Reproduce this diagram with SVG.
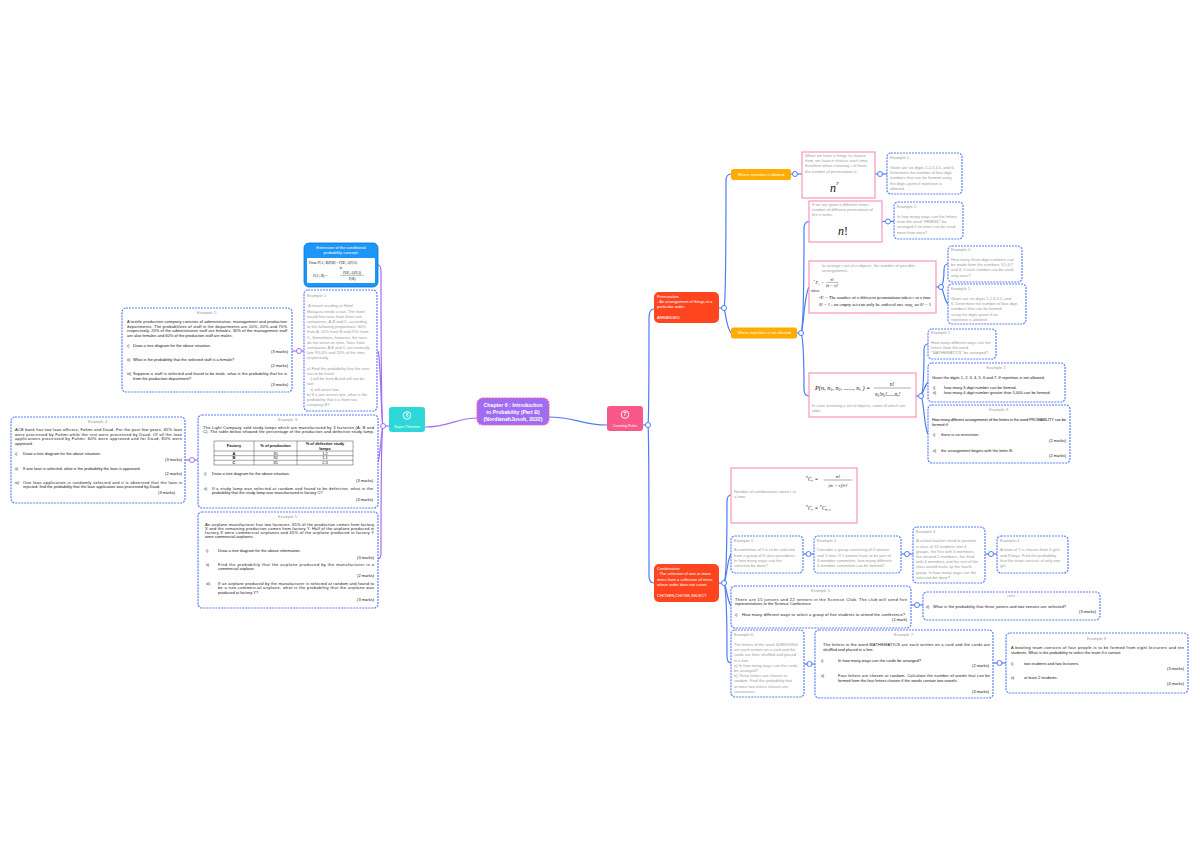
<svg xmlns="http://www.w3.org/2000/svg" width="1200" height="849" viewBox="0 0 1200 849">
<style>
text{font-family:"Liberation Sans",Arial,sans-serif}
.g{font-size:4.05px;fill:#9b9b9b}
.k{font-size:4px;fill:#141414}
.t{font-size:4px;fill:#9b9b9b;text-anchor:middle}
.e{text-anchor:end}
.w{font-size:4.05px;fill:#fff}
.ex{fill:#fff;stroke:#5b80f6;stroke-width:1.2;stroke-dasharray:2 1}
.pk{fill:#fff;stroke:#f78db0;stroke-width:1.1}
.bl{fill:none;stroke:#4c7cf4;stroke-width:1.2}
.pl{fill:none;stroke:#a56cf2;stroke-width:1.2}
.bc{fill:#fff;stroke:#4c7cf4;stroke-width:1}
.pc{fill:#fff;stroke:#a56cf2;stroke-width:1}
.m{font-family:"Liberation Serif","Times New Roman",serif;fill:#111}
.i{font-style:italic}
.tb{fill:none;stroke:#222;stroke-width:0.4}
</style>
<rect width="1200" height="849" fill="#fff"/>

<g id="connectors">
<path class="pl" d="M425,427 C450,427 455,418 478,418"/>
<path class="bl" d="M548,417 C575,417 582,425 607,425"/>
<path class="pl" d="M389,426 H383"/>
<path class="pl" d="M383,426 C381,420 381,280 381,272 Q381,265 378,265"/>
<path class="pl" d="M383,426 C381,420 381,360 378,351"/>
<path class="pl" d="M383,426 C381,432 381,452 378,462"/>
<path class="pl" d="M383,426 C381,432 381,545 381,552 Q381,559 378,559"/>
<path class="pl" d="M304,351 H292"/>
<path class="pl" d="M198,460 H185"/>
<path class="bl" d="M643,425 H648"/>
<path class="bl" d="M648,425 C649,418 649,330 649,318 Q649,309 654,309"/>
<path class="bl" d="M648,425 C649,432 649,568 649,576 Q649,583 654,583"/>
<path class="bl" d="M719,308 H724"/>
<path class="bl" d="M724,308 C726,302 726,190 726,181 Q726,174 731,174"/>
<path class="bl" d="M724,308 C726,314 726,326 731,333"/>
<path class="bl" d="M791,174 H802"/>
<path class="bl" d="M875,174 H887"/>
<path class="bl" d="M797,333 H801"/>
<path class="bl" d="M801,333 C804,328 804,240 804,229 Q804,221.5 809,221.5"/>
<path class="bl" d="M801,333 C804,326 804,296 809,287"/>
<path class="bl" d="M801,333 C804,340 804,380 804,389 Q804,396 809,396"/>
<path class="bl" d="M882,221.5 H894"/>
<path class="bl" d="M936,287 H941"/>
<path class="bl" d="M941,287 C944,283 944,272 944,270 Q944,264 948,264"/>
<path class="bl" d="M941,287 C944,291 944,300 948,304"/>
<path class="bl" d="M916,396 H921"/>
<path class="bl" d="M921,396 C924,392 924,352 924,350 Q924,344 928,344"/>
<path class="bl" d="M921,396 C924,392 924,386 928,382"/>
<path class="bl" d="M921,396 C924,400 924,428 928,434"/>
<path class="bl" d="M719,583 H724"/>
<path class="bl" d="M724,583 C727,578 727,505 727,502 Q727,495 731,495"/>
<path class="bl" d="M724,583 C727,578 727,560 731,554"/>
<path class="bl" d="M724,583 C727,588 727,600 731,606"/>
<path class="bl" d="M724,583 C727,590 727,650 727,656 Q727,663 731,663"/>
<path class="bl" d="M803,554 H814"/>
<path class="bl" d="M901,554 H913"/>
<path class="bl" d="M985,554 H997"/>
<path class="bl" d="M911,605 H923"/>
<path class="bl" d="M804,664 H815"/>
<path class="bl" d="M993,663 H1006"/>
<circle class="pc" cx="383" cy="426" r="2.5"/>
<circle class="pc" cx="299" cy="351" r="2.5"/>
<circle class="pc" cx="192" cy="460" r="2.5"/>
<circle class="bc" cx="648" cy="425" r="2.5"/>
<circle class="bc" cx="724" cy="308" r="2.5"/>
<circle class="bc" cx="795" cy="174" r="2.5"/>
<circle class="bc" cx="880" cy="174" r="2.5"/>
<circle class="bc" cx="801" cy="333" r="2.5"/>
<circle class="bc" cx="888" cy="221.5" r="2.5"/>
<circle class="bc" cx="941" cy="287" r="2.5"/>
<circle class="bc" cx="921" cy="396" r="2.5"/>
<circle class="bc" cx="724" cy="583" r="2.5"/>
<circle class="bc" cx="808.5" cy="554" r="2.5"/>
<circle class="bc" cx="907" cy="554" r="2.5"/>
<circle class="bc" cx="991" cy="554" r="2.5"/>
<circle class="bc" cx="917" cy="605" r="2.5"/>
<circle class="bc" cx="809.5" cy="664" r="2.5"/>
<circle class="bc" cx="999.5" cy="663" r="2.5"/>
</g>

<g id="center">
<rect x="477" y="398" width="72" height="27" rx="6" fill="#a06cf0" stroke="#ff5aa5" stroke-width="1.2" stroke-dasharray="2 1"/>
<text font-size="5.2" font-weight="bold" fill="#fff" text-anchor="middle"><tspan x="513" y="406.5">Chapter 6 : Introduction</tspan><tspan x="513" y="413.5">to Probability (Part B)</tspan><tspan x="513" y="420.5">(NordianahJusoh, 2022)</tspan></text>
</g>

<g id="bayes">
<rect x="389" y="407" width="36" height="25" rx="3" fill="#2ed8d8"/>
<circle cx="407" cy="415.5" r="3.8" fill="none" stroke="#fff" stroke-width="0.9"/>
<text x="407" y="417.3" font-size="4.6" font-weight="bold" fill="#fff" text-anchor="middle">6</text>
<text x="407" y="427.5" font-size="3.6" fill="#fff" text-anchor="middle">Bayes Theorem</text>
</g>

<g id="counting">
<rect x="607" y="406" width="36" height="25" rx="3" fill="#f8578a"/>
<circle cx="625" cy="414.5" r="3.8" fill="none" stroke="#fff" stroke-width="0.9"/>
<text x="625" y="416.3" font-size="4.6" font-weight="bold" fill="#fff" text-anchor="middle">7</text>
<text x="625" y="426.5" font-size="3.6" fill="#fff" text-anchor="middle">Counting Rules</text>
</g>

<g id="extension">
<rect x="304" y="243" width="74" height="44" rx="5" fill="#1c96f7" stroke="#0e72d8" stroke-width="0.8"/>
<text class="w" text-anchor="middle"><tspan x="341" y="248.5">Extension of the conditional</tspan><tspan x="341" y="253.5">probability concept:</tspan></text>
<rect x="307" y="258" width="68" height="25" rx="1" fill="#fff"/>
<text class="m" x="309" y="263.5" font-size="3.5">From  <tspan class="i">P</tspan>(<tspan class="i">A</tspan> | <tspan class="i">B</tspan>)<tspan class="i">P</tspan>(<tspan class="i">B</tspan>) = <tspan class="i">P</tspan>(<tspan class="i">B</tspan> | <tspan class="i">A</tspan>)<tspan class="i">P</tspan>(<tspan class="i">A</tspan>)</text>
<text class="m" x="341" y="268.5" font-size="3.5" text-anchor="middle">to</text>
<text class="m i" x="313" y="276.5" font-size="3.5">P(A | B) =</text>
<text class="m i" x="352" y="274" font-size="3.5" text-anchor="middle">P(B | A)P(A)</text>
<line x1="340" y1="275.3" x2="364" y2="275.3" stroke="#111" stroke-width="0.3"/>
<text class="m i" x="352" y="279.7" font-size="3.5" text-anchor="middle">P(B)</text>
</g>

<g id="bayes-ex1">
<rect class="ex" x="304" y="290" width="73" height="121" rx="4"/>
<text class="g" font-size="4"><tspan x="307" y="297">Example 1:</tspan><tspan x="308" y="307.4">A tenant residing at Hotel</tspan><tspan x="307" y="312.6">Malaysia needs a taxi. The hotel</tspan><tspan x="307" y="317.8">would hire taxis from three taxi</tspan><tspan x="307" y="323">companies, A,B and C, according</tspan><tspan x="307" y="328.2">to the following proportions: 30%</tspan><tspan x="307" y="333.4">from A, 50% from B and 20% from</tspan><tspan x="307" y="338.6">C. Sometimes, however, the taxis</tspan><tspan x="307" y="343.8">do not arrive on time. Taxis from</tspan><tspan x="307" y="349">companies A,B and C are normally</tspan><tspan x="307" y="354.2">late 9%,6% and 20% of the time,</tspan><tspan x="307" y="359.4">respectively.</tspan><tspan x="307" y="369.8">a) Find the probability that the next</tspan><tspan x="307" y="375">taxi to be hired:</tspan><tspan x="310" y="380.2">i) will be from A and will not be</tspan><tspan x="307" y="385.4">late</tspan><tspan x="310" y="390.6">ii) will arrive late.</tspan><tspan x="307" y="395.8">b) If a taxi arrives late, what is the</tspan><tspan x="307" y="401">probability that it is from taxi</tspan><tspan x="307" y="406.2">company B?</tspan></text>
</g>

<g id="bayes-ex2">
<rect class="ex" x="122" y="308" width="170" height="84" rx="4"/>
<text class="t" x="207" y="313.5">Example 2:</text>
<text class="k"><tspan x="127" y="323" textLength="160" lengthAdjust="spacing">A textile production company consists of administrative, management and production</tspan><tspan x="127" y="327.5" textLength="160" lengthAdjust="spacing">departments. The probabilities of staff in the departments are 10%, 20% and 70%</tspan><tspan x="127" y="332" textLength="160" lengthAdjust="spacing">respectively. 20% of the administrative staff are females, 30% of the management staff</tspan><tspan x="127" y="336.5">are also females and 60% of the production staff are males.</tspan></text>
<text class="k"><tspan x="127" y="347">i)</tspan><tspan x="133" y="347">Draw a tree diagram for the above situation.</tspan><tspan x="288" y="353" text-anchor="end">(3 marks)</tspan><tspan x="127" y="361">ii)</tspan><tspan x="133" y="361">What is the probability that the selected staff is a female?</tspan><tspan x="288" y="367" text-anchor="end">(2 marks)</tspan><tspan x="127" y="375">iii)</tspan><tspan x="133" y="375" textLength="154" lengthAdjust="spacing">Suppose a staff is selected and found to be male, what is the probability that he is</tspan><tspan x="133" y="379.5">from the production department?</tspan><tspan x="288" y="386" text-anchor="end">(3 marks)</tspan></text>
</g>

<g id="bayes-ex3">
<rect class="ex" x="198" y="415" width="180" height="93" rx="4"/>
<text class="t" x="288" y="420.5">Example 3:</text>
<text class="k"><tspan x="203" y="428.5" textLength="171" lengthAdjust="spacing">The Light Company sold study lamps which are manufactured by 3 factories (A, B and</tspan><tspan x="203" y="433" textLength="171" lengthAdjust="spacing">C). The table below showed the percentage of the production and defective study lamp.</tspan></text>
<rect class="tb" x="214" y="441" width="139" height="24"/>
<line class="tb" x1="254" y1="441" x2="254" y2="465"/>
<line class="tb" x1="297" y1="441" x2="297" y2="465"/>
<line class="tb" x1="214" y1="451" x2="353" y2="451"/>
<line class="tb" x1="214" y1="455.7" x2="353" y2="455.7"/>
<line class="tb" x1="214" y1="460.3" x2="353" y2="460.3"/>
<text class="k" font-size="3.5" font-weight="bold" text-anchor="middle"><tspan x="234" y="447.3">Factory</tspan><tspan x="275.5" y="447.3">% of production</tspan><tspan x="325" y="445.3">% of defective study</tspan><tspan x="325" y="449.5">lamps</tspan></text>
<text class="k" font-size="3.5" text-anchor="middle"><tspan x="234" y="454.7" font-weight="bold">A</tspan><tspan x="275.5" y="454.7">35</tspan><tspan x="325" y="454.7">1.2</tspan><tspan x="234" y="459.3" font-weight="bold">B</tspan><tspan x="275.5" y="459.3">30</tspan><tspan x="325" y="459.3">1.1</tspan><tspan x="234" y="463.9" font-weight="bold">C</tspan><tspan x="275.5" y="463.9">35</tspan><tspan x="325" y="463.9">2.3</tspan></text>
<text class="k"><tspan x="204" y="474.5">i)</tspan><tspan x="212" y="474.5">Draw a tree diagram for the above situation.</tspan><tspan x="373" y="481.5" text-anchor="end">(3 marks)</tspan><tspan x="204" y="489.5">ii)</tspan><tspan x="212" y="489.5" textLength="161" lengthAdjust="spacing">If a study lamp was selected at random and found to be defective, what is the</tspan><tspan x="212" y="494">probability that the study lamp was manufactured in factory C?</tspan><tspan x="373" y="501" text-anchor="end">(3 marks)</tspan></text>
</g>

<g id="bayes-ex4">
<rect class="ex" x="11" y="417" width="174" height="86" rx="4"/>
<text class="t" x="98" y="422.5">Example 4:</text>
<text class="k"><tspan x="15" y="431" textLength="167" lengthAdjust="spacing">ACE bank has two loan officers, Fahmi and Daud. For the past few years, 65% loan</tspan><tspan x="15" y="435.5" textLength="167" lengthAdjust="spacing">were processed by Fahmi while the rest were processed by Daud. Of all the loan</tspan><tspan x="15" y="440" textLength="167" lengthAdjust="spacing">applications processed by Fahmi, 60% were approved and for Daud, 80% were</tspan><tspan x="15" y="444.5">approved.</tspan></text>
<text class="k"><tspan x="15" y="455">i)</tspan><tspan x="23" y="455">Draw a tree diagram for the above situation.</tspan><tspan x="182" y="461" text-anchor="end">(3 marks)</tspan><tspan x="15" y="469.5">ii)</tspan><tspan x="23" y="469.5">If one loan is selected, what is the probability the loan is approved.</tspan><tspan x="182" y="475" text-anchor="end">(2 marks)</tspan><tspan x="15" y="483.5">iii)</tspan><tspan x="23" y="483.5" textLength="159" lengthAdjust="spacing">One loan application is randomly selected and it is observed that the loan is</tspan><tspan x="23" y="488">rejected, find the probability that the loan application was processed by Daud.</tspan><tspan x="175" y="494" text-anchor="end">(3 marks)</tspan></text>
</g>

<g id="bayes-ex5">
<rect class="ex" x="198" y="512" width="180" height="96" rx="4"/>
<text class="t" x="288" y="517.5">Example 5:</text>
<text class="k"><tspan x="205" y="525.5" textLength="169" lengthAdjust="spacing">An airplane manufacturer has two factories. 65% of the production comes from factory</tspan><tspan x="205" y="529.5" textLength="169" lengthAdjust="spacing">X and the remaining production comes from factory Y. Half of the airplane produced in</tspan><tspan x="205" y="533.5" textLength="169" lengthAdjust="spacing">factory X were commercial airplanes and 45% of the airplane produced in factory Y</tspan><tspan x="205" y="537.5">were commercial airplanes.</tspan></text>
<text class="k"><tspan x="206" y="552">i)</tspan><tspan x="218" y="552">Draw a tree diagram for the above information.</tspan><tspan x="374" y="558.5" text-anchor="end">(3 marks)</tspan><tspan x="206" y="565.5">ii)</tspan><tspan x="218" y="565.5" textLength="156" lengthAdjust="spacing">Find the probability that the airplane produced by the manufacturer is a</tspan><tspan x="218" y="569.8">commercial airplane.</tspan><tspan x="374" y="576.5" text-anchor="end">(2 marks)</tspan><tspan x="206" y="585">iii)</tspan><tspan x="218" y="585" textLength="156" lengthAdjust="spacing">If an airplane produced by the manufacturer is selected at random and found to</tspan><tspan x="218" y="589.3" textLength="156" lengthAdjust="spacing">be a non-commercial airplane, what is the probability that the airplane was</tspan><tspan x="218" y="593.6">produced at factory Y?</tspan><tspan x="374" y="600.5" text-anchor="end">(3 marks)</tspan></text>
</g>

<g id="permutation">
<rect x="654" y="292" width="65" height="31" rx="5" fill="#ff4520"/>
<text class="w"><tspan x="657" y="297.5">Permutation</tspan><tspan x="657" y="302.8">- An arrangement of things in a</tspan><tspan x="657" y="308.1">particular order.</tspan><tspan x="657" y="318.7">ARRANGED</tspan></text>
</g>

<g id="rep-allowed">
<rect x="731" y="169" width="60" height="11" rx="2.5" fill="#ffab00"/>
<text x="761" y="175.8" font-size="3.9" fill="#fff" text-anchor="middle">Where repetition is allowed</text>
</g>

<g id="rep-not-allowed">
<rect x="731" y="327.5" width="66" height="11" rx="2.5" fill="#ffab00"/>
<text x="764" y="334.3" font-size="3.9" fill="#fff" text-anchor="middle">Where repetition is not allowed</text>
</g>

<g id="perm-nr">
<rect class="pk" x="802" y="152" width="73" height="46"/>
<text class="g"><tspan x="805" y="157">When we have n things to choose</tspan><tspan x="805" y="162.2">from, we have n choices each time,</tspan><tspan x="805" y="167.4">therefore when choosing r of them,</tspan><tspan x="805" y="172.6">the number of permutation is:</tspan></text>
<text class="m i" x="830" y="192" font-size="12">n</text>
<text class="m i" x="836.5" y="185" font-size="5.5">r</text>
</g>

<g id="perm-ex-allowed">
<rect class="ex" x="887" y="153" width="75" height="41" rx="4"/>
<text class="g"><tspan x="890" y="158.5">Example 1:</tspan><tspan x="890" y="168.9">Given are six digits 1,2,3,4,5, and 6.</tspan><tspan x="890" y="174.1">Determine the number of four-digit</tspan><tspan x="890" y="179.3">numbers that can be formed using</tspan><tspan x="890" y="184.5">the digits given if repetition is</tspan><tspan x="890" y="189.7">allowed.</tspan></text>
</g>

<g id="perm-nfact">
<rect class="pk" x="809" y="201" width="73" height="41"/>
<text class="g"><tspan x="812" y="206">If we are given n different items,</tspan><tspan x="812" y="211.2">number of different permutation of</tspan><tspan x="812" y="216.4">the n items:</tspan></text>
<text class="m" x="838" y="235" font-size="12"><tspan class="i">n</tspan>!</text>
</g>

<g id="perm-ex-friend">
<rect class="ex" x="894" y="202" width="69" height="37" rx="4"/>
<text class="g"><tspan x="897" y="207.5">Example 1:</tspan><tspan x="897" y="218">In how many ways can the letters</tspan><tspan x="897" y="223.2">from the word "FRIEND" be</tspan><tspan x="897" y="228.4">arranged if no letter can be used</tspan><tspan x="897" y="233.6">more than once?</tspan></text>
</g>

<g id="perm-npr">
<rect class="pk" x="809" y="261" width="127" height="52"/>
<text class="g"><tspan x="822" y="266.5">to arrange r out of n objects, the number of possible</tspan><tspan x="822" y="271.5">arrangements.</tspan></text>
<text class="m i" x="813.5" y="281" font-size="2.8">n</text>
<text class="m i" x="815.4" y="283.8" font-size="4.6">P</text>
<text class="m i" x="818.5" y="285" font-size="2.8">r</text>
<text class="m" x="821" y="283.8" font-size="4.6">=</text>
<text class="m i" x="832" y="280.8" font-size="3.9" text-anchor="middle">n!</text>
<line x1="826" y1="282.4" x2="838.5" y2="282.4" stroke="#111" stroke-width="0.3"/>
<text class="m i" x="832" y="287" font-size="3.9" text-anchor="middle">(n − r)!</text>
<text class="m" x="811" y="292.3" font-size="3.6">where</text>
<text class="m" x="819" y="299.2" font-size="3.8" textLength="112" lengthAdjust="spacingAndGlyphs"><tspan class="i">ⁿP</tspan>ᵣ = The number of <tspan class="i">n</tspan> different permutations taken <tspan class="i">r</tspan> at a time</text>
<text class="m" x="819" y="306" font-size="3.8" textLength="112" lengthAdjust="spacingAndGlyphs">0! = 1 ; an empty set can only be ordered one way, so 0! = 1</text>
</g>

<g id="perm-ex-3digit">
<rect class="ex" x="948" y="246" width="74" height="36" rx="4"/>
<text class="g"><tspan x="951" y="251">Example 1:</tspan><tspan x="951" y="261">How many three-digit numbers can</tspan><tspan x="951" y="266.2">be made from the numbers 3,5,6,7</tspan><tspan x="951" y="271.4">and 8, if each number can be used</tspan><tspan x="951" y="276.6">only once?</tspan></text>
</g>

<g id="perm-ex-norep">
<rect class="ex" x="948" y="284" width="78" height="40" rx="4"/>
<text class="g"><tspan x="951" y="289.5">Example 2:</tspan><tspan x="951" y="299.9">Given are six digits 1,2,3,4,5, and</tspan><tspan x="951" y="305.1">6. Determine the number of four-digit</tspan><tspan x="951" y="310.3">numbers that can be formed</tspan><tspan x="951" y="315.5">using the digits given if no</tspan><tspan x="951" y="320.7">repetition is allowed.</tspan></text>
</g>

<g id="perm-alike">
<rect class="pk" x="809" y="373" width="107" height="44"/>
<text class="m i" x="815" y="390" font-size="6.3">P(n, n<tspan font-size="3.8" dy="1.2">1</tspan><tspan dy="-1.2">, n</tspan><tspan font-size="3.8" dy="1.2">2</tspan><tspan dy="-1.2">, ......, n</tspan><tspan font-size="3.8" dy="1.2">r</tspan><tspan dy="-1.2"> ) =</tspan></text>
<text class="m i" x="892" y="385.5" font-size="5.5" text-anchor="middle">n!</text>
<line x1="874" y1="388" x2="911" y2="388" stroke="#111" stroke-width="0.35"/>
<text class="m i" x="875" y="395.5" font-size="5.2">n<tspan font-size="3.3" dy="1">1</tspan><tspan dy="-1">!n</tspan><tspan font-size="3.3" dy="1">2</tspan><tspan dy="-1">!......n</tspan><tspan font-size="3.3" dy="1">r</tspan><tspan dy="-1">!</tspan></text>
<text class="g"><tspan x="812" y="406.8">In  case involving a set of objects, some of which are</tspan><tspan x="812" y="411.8">alike.</tspan></text>
</g>

<g id="perm-ex-math">
<rect class="ex" x="928" y="329" width="68" height="30" rx="4"/>
<text class="g"><tspan x="931" y="334">Example 1:</tspan><tspan x="931" y="344">How many different ways can the</tspan><tspan x="931" y="349.2">letters from the word</tspan><tspan x="931" y="354.4">"MATHEMATICS" be arranged?</tspan></text>
</g>

<g id="perm-ex-digits">
<rect class="ex" x="928" y="363" width="137" height="39" rx="4"/>
<text class="t" x="996.5" y="368.5">Example 2:</text>
<text class="k"><tspan x="932" y="379">Given the digits 1, 2, 3, 4, 5, 6 and 7. If repetition is not allowed,</tspan><tspan x="933" y="388.5">i)</tspan><tspan x="944" y="388.5">how many 3-digit number can be formed.</tspan><tspan x="933" y="393.5">ii)</tspan><tspan x="944" y="393.5">how many 4-digit number greater than 5,000 can be formed.</tspan></text>
</g>

<g id="perm-ex-probability">
<rect class="ex" x="928" y="405" width="142" height="58" rx="4"/>
<text class="t" x="999" y="410.5">Example 3:</text>
<text class="k" font-size="4.2"><tspan x="932" y="421" textLength="134" lengthAdjust="spacing">How many different arrangements of the letters in the word PROBABILITY can be</tspan><tspan x="932" y="426">formed if:</tspan><tspan x="933" y="436">i)</tspan><tspan x="941" y="436">there is no restriction.</tspan><tspan x="1066" y="441.5" text-anchor="end">(2 marks)</tspan><tspan x="933" y="451.5">ii)</tspan><tspan x="941" y="451.5">the arrangement begins with the letter B.</tspan><tspan x="1066" y="457" text-anchor="end">(2 marks)</tspan></text>
</g>

<g id="combination">
<rect x="654" y="564" width="65" height="38" rx="5" fill="#ff4520"/>
<text class="w"><tspan x="657" y="570">Combination</tspan><tspan x="657" y="575.3">- The selection of one or more</tspan><tspan x="657" y="580.6">items from a collection of items</tspan><tspan x="657" y="585.9">where order does not count.</tspan><tspan x="657" y="596.5">CHOSEN,CHOSE,SELECT</tspan></text>
</g>

<g id="comb-ncr">
<rect class="pk" x="731" y="468" width="126" height="55"/>
<text class="g"><tspan x="734" y="493">Number of combinations taken r at</tspan><tspan x="734" y="498.2">a time;</tspan></text>
<text class="m i" x="806" y="478" font-size="3.2">n</text>
<text class="m i" x="808" y="481.2" font-size="5.4">C</text>
<text class="m i" x="811.8" y="482.4" font-size="3.2">r</text>
<text class="m" x="815" y="481.2" font-size="5.4">=</text>
<text class="m i" x="838" y="478" font-size="5" text-anchor="middle">n!</text>
<line x1="823.5" y1="480" x2="852.5" y2="480" stroke="#111" stroke-width="0.35"/>
<text class="m i" x="838" y="486.8" font-size="5" text-anchor="middle">(n − r)!r!</text>
<text class="m i" x="806" y="507" font-size="3.2">n</text>
<text class="m i" x="808" y="510.2" font-size="5.4">C</text>
<text class="m i" x="811.8" y="511.4" font-size="3.2">r</text>
<text class="m" x="815" y="510.2" font-size="5.4">=</text>
<text class="m i" x="820" y="507" font-size="3.2">n</text>
<text class="m i" x="822" y="510.2" font-size="5.4">C</text>
<text class="m i" x="825.8" y="511.4" font-size="3.2">n−r</text>
</g>

<g id="comb-ex1">
<rect class="ex" x="731" y="536" width="72" height="37" rx="4"/>
<text class="g"><tspan x="734" y="541.5">Example 1:</tspan><tspan x="734" y="551.4">A committee of 5 is to be selected</tspan><tspan x="734" y="556.6">from a group of 9 class presidents.</tspan><tspan x="734" y="561.8">In how many ways can the</tspan><tspan x="734" y="567">selection be done?</tspan></text>
</g>

<g id="comb-ex2">
<rect class="ex" x="814" y="536" width="87" height="37" rx="4"/>
<text class="g"><tspan x="817" y="541.5">Example 2:</tspan><tspan x="817" y="551.4">Consider a group consisting of 4 women</tspan><tspan x="817" y="556.6">and 5 men. If 2 women have to be part of</tspan><tspan x="817" y="561.8">4-member committee, how many different</tspan><tspan x="817" y="567">4-member committee can be formed?</tspan></text>
</g>

<g id="comb-ex3">
<rect class="ex" x="913" y="527" width="72" height="56" rx="4"/>
<text class="g"><tspan x="916" y="532.5">Example 3:</tspan><tspan x="916" y="542.4">A school teacher need to partition</tspan><tspan x="916" y="547.6">a class of 15 students into 4</tspan><tspan x="916" y="552.8">groups, the first with 3 members,</tspan><tspan x="916" y="558">the second 2 members, the third</tspan><tspan x="916" y="563.2">with 4 members and the rest of the</tspan><tspan x="916" y="568.4">class would make up the fourth</tspan><tspan x="916" y="573.6">group. In how many ways can the</tspan><tspan x="916" y="578.8">selection be done?</tspan></text>
</g>

<g id="comb-ex4">
<rect class="ex" x="997" y="536" width="71" height="37" rx="4"/>
<text class="g"><tspan x="1000" y="541.5">Example 4:</tspan><tspan x="1000" y="551.4">A team of 7 is chosen from 5 girls</tspan><tspan x="1000" y="556.6">and 8 boys. Find the probability</tspan><tspan x="1000" y="561.8">that the team consists of only one</tspan><tspan x="1000" y="567">girl.</tspan></text>
</g>

<g id="comb-ex5">
<rect class="ex" x="731" y="586" width="180" height="42" rx="4"/>
<text class="t" x="821" y="591.5">Example 5:</text>
<text class="k" font-size="4.3"><tspan x="735" y="600.5" textLength="172" lengthAdjust="spacing">There are 15 juniors and 22 seniors in the Science Club. The club will send five</tspan><tspan x="735" y="605">representatives to the Science Conference.</tspan><tspan x="735" y="616">i)</tspan><tspan x="742" y="616" textLength="163" lengthAdjust="spacing">How many different ways to select a group of five students to attend the conference?</tspan><tspan x="907" y="621" text-anchor="end">(1 mark)</tspan></text>
</g>

<g id="comb-ex5-cont">
<rect class="ex" x="923" y="592" width="177" height="28" rx="4"/>
<text class="t" x="1011" y="597">cont</text>
<text class="k" font-size="4.1"><tspan x="926" y="607.5">ii)</tspan><tspan x="933" y="607.5" textLength="133" lengthAdjust="spacing">What is the probability that three juniors and two seniors are selected?</tspan><tspan x="1096" y="613" text-anchor="end">(3 marks)</tspan></text>
</g>

<g id="comb-ex6">
<rect class="ex" x="731" y="630" width="73" height="67" rx="4"/>
<text class="g"><tspan x="734" y="636">Example 6:</tspan><tspan x="734" y="646">The letters of the word SURVIVING</tspan><tspan x="734" y="651.2">are each written on a card and the</tspan><tspan x="734" y="656.4">cards are then shuffled and placed</tspan><tspan x="734" y="661.6">in a line.</tspan><tspan x="734" y="666.8">a) In how many ways can the cards</tspan><tspan x="734" y="672">be arranged?</tspan><tspan x="734" y="677.2">b) Three letters are chosen at</tspan><tspan x="734" y="682.4">random. Find the probability that</tspan><tspan x="734" y="687.6">at most two letters chosen are</tspan><tspan x="734" y="692.8">consonants.</tspan></text>
</g>

<g id="comb-ex7">
<rect class="ex" x="815" y="630" width="178" height="68" rx="4"/>
<text class="t" x="904" y="636">Example 7:</text>
<text class="k" font-size="4.1"><tspan x="823" y="646" textLength="167" lengthAdjust="spacing">The letters in the word MATHEMATICS are each written on a card and the cards are</tspan><tspan x="823" y="651">shuffled and placed in a line.</tspan><tspan x="821" y="662">i)</tspan><tspan x="838" y="662">In how many ways can the cards be arranged?</tspan><tspan x="989" y="667" text-anchor="end">(2 marks)</tspan><tspan x="821" y="677">ii)</tspan><tspan x="838" y="677" textLength="152" lengthAdjust="spacing">Four letters are chosen at random. Calculate the number of words that can be</tspan><tspan x="838" y="682">formed from the four letters chosen if the words contain two vowels.</tspan><tspan x="989" y="692.5" text-anchor="end">(3 marks)</tspan></text>
</g>

<g id="comb-ex8">
<rect class="ex" x="1006" y="633" width="182" height="60" rx="4"/>
<text class="t" x="1097" y="639.5">Example 8:</text>
<text class="k" font-size="4.1"><tspan x="1011" y="649" textLength="173" lengthAdjust="spacing">A bowling team consists of four people is to be formed from eight lecturers and ten</tspan><tspan x="1011" y="654">students. What is the probability to select the team if it consist:</tspan><tspan x="1011" y="665">i)</tspan><tspan x="1024" y="665">two students and two lecturers.</tspan><tspan x="1184" y="669.5" text-anchor="end">(3 marks)</tspan><tspan x="1011" y="679">ii)</tspan><tspan x="1024" y="679">at least 2 students.</tspan><tspan x="1184" y="684.5" text-anchor="end">(4 marks)</tspan></text>
</g>
</svg>
